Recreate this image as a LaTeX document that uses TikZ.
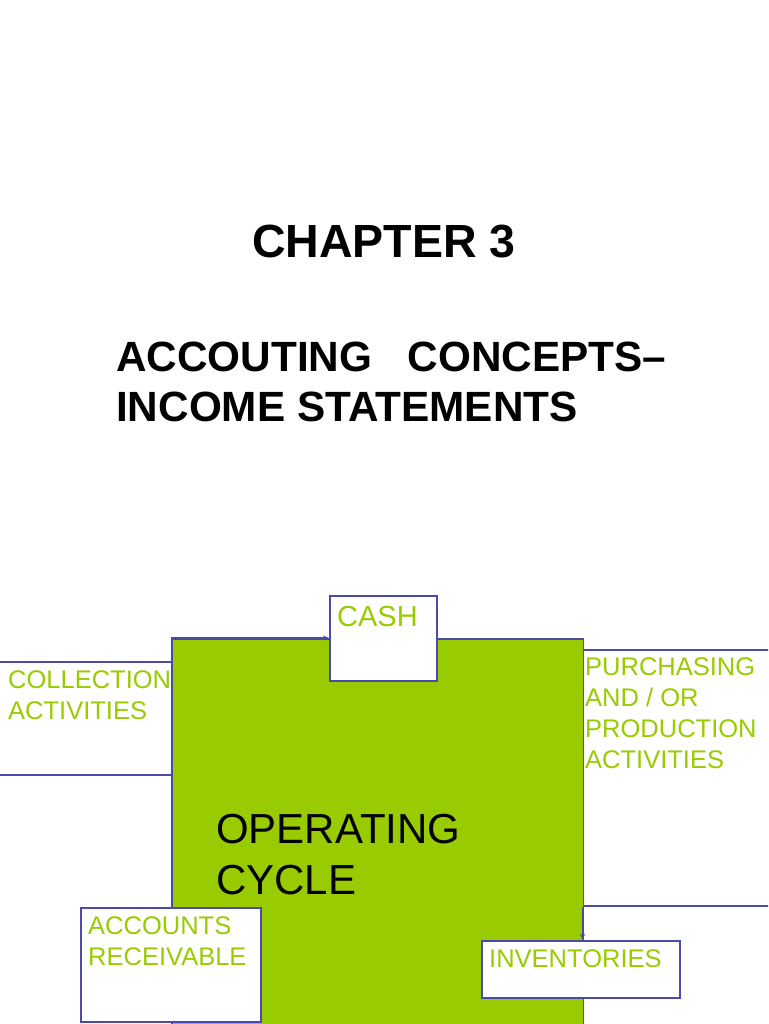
\documentclass[tikz,border=0pt]{standalone}
\usepackage{fontspec}
\setmainfont{Liberation Sans}
\usetikzlibrary{arrows.meta}
\definecolor{lime}{HTML}{99CC00}
\definecolor{edgeblue}{HTML}{4A4AAA}
\begin{document}
\begin{tikzpicture}[x=1pt,y=-1pt,
  box/.style={draw=edgeblue, line width=1.6pt, fill=white, inner sep=0pt, anchor=north west},
  greentext/.style={text=lime, font=\fontsize{25.5}{30.8}\selectfont, align=left, inner sep=0pt, anchor=base west},
  titletext/.style={text=black, font=\fontsize{42.3}{50}\selectfont\bfseries, align=left, inner sep=0pt, anchor=base west},
  flow/.style={draw=edgeblue, line width=1.6pt, -{Stealth[length=6pt,width=5pt]}}]
\useasboundingbox (0,0) rectangle (768,1024);
\fill[white] (0,0) rectangle (768,1024);
\clip (0,0) rectangle (768,1024);

% titles (base anchor = baseline of the last line)
\node[titletext, font=\fontsize{46.5}{50}\selectfont\bfseries] (chap) at (252,257) {CHAPTER 3};
\node[titletext] (sub) at (116,421) {ACCOUTING\ \ \ CONCEPTS--\\INCOME STATEMENTS};

% big green operating cycle block
\node[box, fill=lime, minimum width=411.5pt, minimum height=420pt] (cycle) at (171,638) {};

% boxes
\node[box, minimum width=107pt, minimum height=85pt] (cash) at (329,595) {};
\node[box, minimum width=185pt, minimum height=113pt] (coll) at (-14,661) {};
\node[box, minimum width=200pt, minimum height=256pt] (purch) at (582.5,649) {};
\node[box, minimum width=180pt, minimum height=114pt] (ar) at (80,907) {};
\node[box, minimum width=198pt, minimum height=57pt] (inv) at (481,940) {};

% connectors
\draw[flow] (cycle.north west) -- (cycle.north west -| cash.west);
\draw[flow] (purch.south west) -- (purch.south west |- inv.north);

% labels
\node[greentext, font=\fontsize{29}{31}\selectfont] (cashlbl) at (337,626) {CASH};
\node[greentext] (colllbl) at (8,719) {COLLECTION\\ACTIVITIES};
\node[greentext] (purchlbl) at (585,768) {PURCHASING\\AND / OR\\PRODUCTION\\ACTIVITIES};
\node[greentext] (arlbl) at (88,965) {ACCOUNTS\\RECEIVABLE};
\node[greentext] (invlbl) at (489,967) {INVENTORIES};
\node[titletext, font=\fontsize{42}{51}\selectfont] (cyclbl) at (216,894) {OPERATING\\CYCLE};
\end{tikzpicture}
\end{document}
